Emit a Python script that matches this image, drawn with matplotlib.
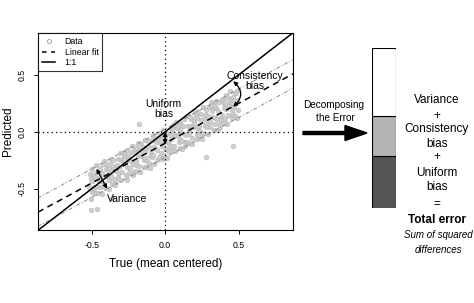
import matplotlib
matplotlib.use("Agg")
import matplotlib.pyplot as plt
from matplotlib.lines import Line2D

plt.rcParams['font.family'] = ['Liberation Sans', 'DejaVu Sans']
plt.rcParams['axes.unicode_minus'] = False

# scatter cloud (true, predicted), one x-slice per line
cloud_x = [
    -0.506, -0.519, -0.502, -0.512, -0.500,
    -0.496, -0.483, -0.500, -0.487, -0.491,
    -0.461, -0.474, -0.469, -0.478, -0.464,
    -0.446, -0.459, -0.442, -0.452, -0.440,
    -0.436, -0.423, -0.440, -0.427, -0.431,
    -0.401, -0.414, -0.409, -0.418, -0.404,
    -0.386, -0.399, -0.382, -0.392, -0.380,
    -0.376, -0.363, -0.380, -0.367, -0.371,
    -0.341, -0.354, -0.349, -0.358, -0.344,
    -0.326, -0.339, -0.322, -0.332, -0.320,
    -0.316, -0.303, -0.320, -0.307, -0.311,
    -0.281, -0.294, -0.289, -0.298, -0.284,
    -0.266, -0.279, -0.262, -0.272, -0.260,
    -0.256, -0.243, -0.260, -0.247, -0.251,
    -0.221, -0.234, -0.229, -0.238, -0.224,
    -0.206, -0.219, -0.202, -0.212, -0.200,
    -0.196, -0.183, -0.200, -0.187, -0.191,
    -0.161, -0.174, -0.169, -0.178, -0.164,
    -0.146, -0.159, -0.142, -0.152, -0.140,
    -0.136, -0.123, -0.140, -0.127, -0.131,
    -0.101, -0.114, -0.109, -0.118, -0.104,
    -0.086, -0.099, -0.082, -0.092, -0.080,
    -0.076, -0.063, -0.080, -0.067, -0.071,
    -0.041, -0.054, -0.049, -0.058, -0.044,
    -0.026, -0.039, -0.022, -0.032, -0.020,
    -0.016, -0.003, -0.020, -0.007, -0.011,
    0.019, 0.006, 0.011, 0.002, 0.016,
    0.034, 0.021, 0.038, 0.028, 0.040,
    0.044, 0.057, 0.040, 0.053, 0.049,
    0.079, 0.066, 0.071, 0.062, 0.076,
    0.094, 0.081, 0.098, 0.088, 0.100,
    0.104, 0.117, 0.100, 0.113, 0.109,
    0.139, 0.126, 0.131, 0.122, 0.136,
    0.154, 0.141, 0.158, 0.148, 0.160,
    0.164, 0.177, 0.160, 0.173, 0.169,
    0.199, 0.186, 0.191, 0.182, 0.196,
    0.214, 0.201, 0.218, 0.208, 0.220,
    0.224, 0.237, 0.220, 0.233, 0.229,
    0.259, 0.246, 0.251, 0.242, 0.256,
    0.274, 0.261, 0.278, 0.268, 0.280,
    0.284, 0.297, 0.280, 0.293, 0.289,
    0.319, 0.306, 0.311, 0.302, 0.316,
    0.334, 0.321, 0.338, 0.328, 0.340,
    0.344, 0.357, 0.340, 0.353, 0.349,
    0.379, 0.366, 0.371, 0.362, 0.376,
    0.394, 0.381, 0.398, 0.388, 0.400,
    0.404, 0.417, 0.400, 0.413, 0.409,
    0.439, 0.426, 0.431, 0.422, 0.436,
    0.454, 0.441, 0.458, 0.448, 0.460,
    0.464, 0.477, 0.460, 0.473, 0.469,
    0.499, 0.486, 0.491, 0.482, 0.496,
    0.463, -0.463, -0.505, -0.180, 0.280, -0.360,
]
cloud_y = [
    -0.59, -0.48, -0.41, -0.37, -0.53,
    -0.33, -0.53, -0.43, -0.48, -0.38,
    -0.48, -0.40, -0.29, -0.54, -0.35,
    -0.40, -0.54, -0.35, -0.43, -0.32,
    -0.48, -0.28, -0.43, -0.36, -0.55,
    -0.33, -0.45, -0.39, -0.26, -0.49,
    -0.39, -0.28, -0.50, -0.34, -0.42,
    -0.28, -0.46, -0.32, -0.39, -0.24,
    -0.46, -0.33, -0.41, -0.25, -0.30,
    -0.29, -0.47, -0.24, -0.34, -0.40,
    -0.36, -0.25, -0.41, -0.19, -0.31,
    -0.20, -0.35, -0.27, -0.42, -0.24,
    -0.38, -0.24, -0.31, -0.18, -0.42,
    -0.25, -0.36, -0.16, -0.32, -0.21,
    -0.38, -0.18, -0.26, -0.32, -0.12,
    -0.18, -0.28, -0.15, -0.35, -0.26,
    -0.29, -0.10, -0.34, -0.21, -0.14,
    -0.21, -0.35, -0.16, -0.30, -0.11,
    -0.31, -0.17, -0.25, -0.13, -0.23,
    -0.07, -0.26, -0.17, -0.31, -0.14,
    -0.21, -0.08, -0.27, -0.12, -0.32,
    -0.07, -0.17, -0.03, -0.22, -0.13,
    -0.28, -0.09, -0.20, -0.14, -0.05,
    -0.09, -0.25, -0.06, -0.16, -0.22,
    -0.19, -0.01, -0.24, -0.08, -0.12,
    0.02, -0.15, -0.04, -0.20, -0.09,
    -0.09, -0.01, -0.23, -0.04, -0.15,
    -0.02, -0.17, 0.03, -0.11, -0.06,
    -0.17, -0.04, -0.12, 0.06, 0.01,
    -0.03, -0.17, 0.04, -0.12, 0.09,
    -0.09, 0.03, -0.14, -0.03, -0.06,
    0.08, -0.08, 0.02, -0.15, 0.06,
    -0.09, 0.11, -0.02, 0.05, -0.12,
    0.05, -0.03, 0.14, -0.09, 0.01,
    -0.10, 0.11, -0.02, 0.05, 0.13,
    0.10, -0.05, 0.04, -0.11, 0.08,
    0.03, 0.18, -0.02, 0.15, -0.06,
    0.17, 0.01, 0.12, 0.05, -0.03,
    -0.02, 0.10, -0.06, 0.16, 0.22,
    0.12, -0.01, 0.19, 0.05, 0.15,
    0.04, 0.22, 0.08, -0.02, 0.14,
    0.21, 0.09, 0.26, 0.04, 0.13,
    0.02, 0.18, 0.07, 0.24, 0.12,
    0.21, 0.02, 0.23, 0.11, 0.27,
    0.12, 0.26, 0.07, 0.18, 0.04,
    0.29, 0.10, 0.21, 0.15, 0.25,
    0.11, 0.20, 0.08, 0.32, 0.25,
    0.25, 0.15, 0.30, 0.07, 0.23,
    0.12, 0.36, 0.19, 0.29, 0.16,
    0.31, 0.14, 0.25, 0.34, 0.22,
    0.19, 0.28, 0.12, 0.34, 0.37,
    -0.12, -0.68, -0.69, 0.07, -0.22, -0.58,
]

# fitted line and its spread band
fit_slope = 0.70
fit_intercept = -0.10
band = 0.125

x_ticks = [-0.5, 0.0, 0.5]
y_ticks = [-0.5, 0.0, 0.5]

# error decomposition bar, bottom to top
parts = ['Uniform bias', 'Consistency bias', 'Variance']
part_sizes = [52, 39, 68]
part_colors = ['#555555', '#b4b4b4', 'white']

W, H = 474, 303
fig = plt.figure(figsize=(W / 100, H / 100), dpi=100)
fig.patch.set_facecolor('white')

ax = fig.add_axes([38 / W, 1 - 230 / H, 255 / W, 197 / H])
ax.set_xlim(-0.865, 0.87)
ax.set_ylim(-0.862, 0.868)

ax.scatter(cloud_x, cloud_y, s=12, c='#cdcdcd', edgecolors='#b2b2b2', linewidths=0.3, zorder=1)

ax.axhline(0, color='black', ls=(0, (1, 2.5)), lw=0.9, zorder=2)
ax.axvline(0, color='black', ls=(0, (1, 2.5)), lw=0.9, zorder=2)

ax.axline((0, fit_intercept + band), slope=fit_slope, color='#888888', lw=0.7, ls=(0, (4, 2, 1, 2)), zorder=2)
ax.axline((0, fit_intercept - band), slope=fit_slope, color='#888888', lw=0.7, ls=(0, (4, 2, 1, 2)), zorder=2)
ax.axline((0, fit_intercept), slope=fit_slope, color='black', lw=1.1, ls=(0, (4, 3)), zorder=3)
ax.axline((0, 0), slope=1, color='black', lw=1.1, zorder=3)

# annotations
arr = dict(arrowstyle='<|-|>', color='black', lw=0.9, mutation_scale=6, shrinkA=0, shrinkB=0)
ax.annotate('', xy=(-0.395, -0.50), xytext=(-0.467, -0.324), arrowprops=arr, zorder=4)
ax.text(-0.26, -0.59, 'Variance', ha='center', va='center', fontsize=7.5)
ax.annotate('', xy=(0.0, -0.11), xytext=(0.0, 0.0), arrowprops=arr, zorder=4)
ax.text(-0.01, 0.2, 'Uniform\nbias', ha='center', va='center', fontsize=7.5, linespacing=1.0)
arr_c = dict(arr, connectionstyle='arc3,rad=-0.55')
ax.annotate('', xy=(0.463, 0.22), xytext=(0.463, 0.445), arrowprops=arr_c, zorder=4)
ax.text(0.61, 0.447, 'Consistency\nbias', ha='center', va='center', fontsize=7.5, linespacing=1.0)

ax.set_xticks(x_ticks)
ax.set_xticklabels(['%.1f' % v for v in x_ticks])
ax.set_yticks(y_ticks)
ax.set_yticklabels(['%.1f' % v for v in y_ticks], rotation=90, va='center')
ax.tick_params(length=3, width=0.7, labelsize=6.3, pad=5)
for s in ax.spines.values():
    s.set_linewidth(0.8)
ax.set_xlabel('True (mean centered)', fontsize=8.5, labelpad=6)
ax.set_ylabel('Predicted', fontsize=8.5, labelpad=3)

handles = [
    Line2D([], [], ls='none', marker='o', ms=3, mfc='none', mec='#999999', mew=0.6),
    Line2D([], [], color='black', lw=1.1, ls=(0, (3, 3))),
    Line2D([], [], color='black', lw=1.1),
]
leg = ax.legend(handles, ['Data', 'Linear fit', '1:1'], loc='upper left', fontsize=6.3,
                frameon=True, fancybox=False, borderaxespad=0, handlelength=1.5,
                labelspacing=0.2, borderpad=0.45, handletextpad=1.1)
leg.get_frame().set_edgecolor('black')
leg.get_frame().set_linewidth(0.8)

# overlay in pixel units for the right-hand part
ov = fig.add_axes([0, 0, 1, 1])
ov.set_xlim(0, W)
ov.set_ylim(H, 0)
ov.axis('off')
ov.patch.set_visible(False)

ov.text(334, 105, 'Decomposing', ha='center', va='center', fontsize=7.2)
ov.text(335, 118, 'the Error', ha='center', va='center', fontsize=7.2)
ov.arrow(303, 133, 64, 0, width=3, head_width=15, head_length=22,
         length_includes_head=True, color='black')

bx = fig.add_axes([372 / W, 1 - 208 / H, 24 / W, 160 / H])
bottom = 0
for size, col in zip(part_sizes, part_colors):
    bx.bar(0, size, bottom=bottom, width=1, color=col, edgecolor='black', linewidth=0.8)
    bottom += size
bx.set_xlim(-0.5, 0.5)
bx.set_ylim(0, bottom)
bx.axis('off')

cx = 437
ov.text(cx, 100, 'Variance', ha='center', va='center', fontsize=8.5)
ov.text(cx, 116, '+', ha='center', va='center', fontsize=8.5)
ov.text(cx, 129, 'Consistency', ha='center', va='center', fontsize=8.5)
ov.text(cx, 144, 'bias', ha='center', va='center', fontsize=8.5)
ov.text(cx, 157, '+', ha='center', va='center', fontsize=8.5)
ov.text(cx, 173, 'Uniform', ha='center', va='center', fontsize=8.5)
ov.text(cx, 187, 'bias', ha='center', va='center', fontsize=8.5)
ov.text(cx, 204, '=', ha='center', va='center', fontsize=8.5)
ov.text(cx, 220, 'Total error', ha='center', va='center', fontsize=8.5, fontweight='bold')
ov.text(cx + 1, 235, 'Sum of squared', ha='center', va='center', fontsize=7, style='italic')
ov.text(cx + 1, 250, 'differences', ha='center', va='center', fontsize=7, style='italic')

fig.savefig('out.png', dpi=100)
